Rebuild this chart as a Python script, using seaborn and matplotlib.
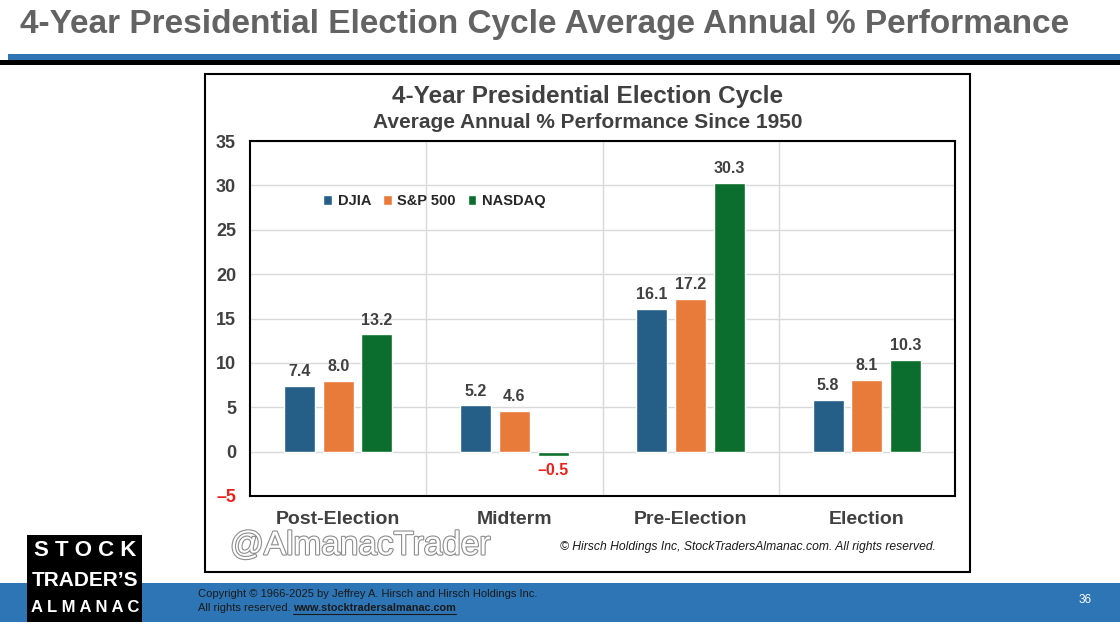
import matplotlib
matplotlib.use("Agg")
import matplotlib.pyplot as plt
import matplotlib.patheffects as pe
from matplotlib.patches import Rectangle
import pandas as pd
import seaborn as sns

categories = ["Post-Election", "Midterm", "Pre-Election", "Election"]
djia = [7.4, 5.2, 16.1, 5.8]
sp500 = [8.0, 4.6, 17.2, 8.1]
nasdaq = [13.2, -0.5, 30.3, 10.3]
series_names = ["DJIA", "S&P 500", "NASDAQ"]
series_colors = ["#255E86", "#E97B3A", "#0B6E2E"]
y_ticks = [-5, 0, 5, 10, 15, 20, 25, 30, 35]

sns.set_theme(style="white")
plt.rcParams["font.family"] = ["Liberation Sans", "DejaVu Sans"]

W, H = 1120, 625
fig = plt.figure(figsize=(W / 100, H / 100), dpi=100)
fig.patch.set_facecolor("white")


def px(x, y):
    # pixel coords (top-left origin) -> figure fraction
    return x / W, 1 - y / H


# header
fig.text(*px(20, 25), "4-Year Presidential Election Cycle Average Annual % Performance",
         fontsize=24, fontweight="bold", color="#636363", va="center", ha="left")
fig.patches.append(Rectangle(px(8, 60), 1, 6 / H, transform=fig.transFigure,
                             facecolor="#2E75B6", edgecolor="none"))
fig.patches.append(Rectangle(px(0, 65), 1, 5 / H, transform=fig.transFigure,
                             facecolor="black", edgecolor="none"))

# footer band
fig.patches.append(Rectangle(px(0, 622), 1, 39 / H, transform=fig.transFigure,
                             facecolor="#2E75B6", edgecolor="none"))
fig.text(*px(198, 594), "Copyright \u00a9 1966-2025 by Jeffrey A. Hirsch and Hirsch Holdings Inc.",
         fontsize=8, color="#1a1a1a", va="center")
fig.text(*px(198, 608), "All rights reserved.", fontsize=8, color="#1a1a1a", va="center")
fig.text(*px(293, 608), "www.stocktradersalmanac.com", fontsize=7.8, color="#1a1a1a",
         va="center", fontweight="bold")
fig.lines.append(plt.Line2D([293 / W, 456 / W], [1 - 614 / H] * 2, transform=fig.transFigure,
                            color="#1a1a1a", lw=0.8))
fig.text(*px(1085, 600), "36", fontsize=8.5, color="white", va="center", ha="center")

# logo
fig.patches.append(Rectangle(px(27, 622), 115 / W, 87 / H, transform=fig.transFigure,
                             facecolor="black", edgecolor="none", zorder=3))
fig.text(*px(85, 551), "S T O C K", fontsize=16, fontweight="bold", color="white",
         ha="center", va="center", zorder=4)
fig.text(*px(85, 580), "TRADER\u2019S", fontsize=15, fontweight="bold", color="white",
         ha="center", va="center", zorder=4)
fig.text(*px(85, 607), "A L M A N A C", fontsize=12, fontweight="bold", color="white",
         ha="center", va="center", zorder=4)

# chart frame
fig.patches.append(Rectangle(px(205, 572), 765 / W, 498 / H, transform=fig.transFigure,
                             facecolor="none", edgecolor="black", lw=1.5))
fig.text(*px(588, 97), "4-Year Presidential Election Cycle", fontsize=17.5, fontweight="bold",
         color="#404040", ha="center", va="center")
fig.text(*px(588, 122), "Average Annual % Performance Since 1950", fontsize=15, fontweight="bold",
         color="#404040", ha="center", va="center")

df = pd.DataFrame({
    "category": categories * 3,
    "series": [s for s in series_names for _ in categories],
    "value": djia + sp500 + nasdaq,
})

ax = fig.add_axes([250 / W, 1 - 496 / H, 705 / W, 355 / H])
sns.barplot(data=df, x="category", y="value", hue="series", hue_order=series_names,
            palette=series_colors, order=categories, width=0.66, gap=0.2,
            saturation=1, ax=ax, zorder=3)

ax.set_ylim(-5, 35)
ax.set_xlim(-0.5, len(categories) - 0.5)
ax.set_yticks(y_ticks)
ax.set_yticklabels(["\u20135" if t < 0 else str(t) for t in y_ticks])
for lbl, t in zip(ax.get_yticklabels(), y_ticks):
    lbl.set_color("#E8211B" if t < 0 else "#404040")
ax.tick_params(axis="y", length=0, pad=10, labelsize=13)
ax.tick_params(axis="x", length=0, pad=11, labelsize=14)
for lbl in ax.get_yticklabels() + ax.get_xticklabels():
    lbl.set_fontweight("bold")
for lbl in ax.get_xticklabels():
    lbl.set_color("#404040")
ax.set_xlabel("")
ax.set_ylabel("")

ax.grid(axis="y", color="#D9D9D9", lw=1, zorder=0)
for xv in [0.5, 1.5, 2.5]:
    ax.axvline(xv, color="#D9D9D9", lw=1, zorder=0)
for sp in ax.spines.values():
    sp.set_color("black")
    sp.set_linewidth(1.5)

for cont in ax.containers:
    labels = []
    for b in cont:
        v = b.get_height()
        labels.append(f"\u2013{abs(v):.1f}" if v < 0 else f"{v:.1f}")
    texts = ax.bar_label(cont, labels=labels, padding=5, fontsize=11.5, fontweight="bold",
                         color="#404040")
    for t, b in zip(texts, cont):
        if b.get_height() < 0:
            t.set_color("#E8211B")

handles, _ = ax.get_legend_handles_labels()
ax.legend(handles, series_names, loc="upper left", bbox_to_anchor=(0.085, 0.887), ncol=3,
          frameon=False, handlelength=0.6, handleheight=0.6, handletextpad=0.4,
          columnspacing=0.8, prop={"weight": "bold", "size": 10.5})

# watermark and credit
fig.text(*px(230, 546), "@AlmanacTrader", fontsize=24, color="white", va="center", ha="left",
         path_effects=[pe.withStroke(linewidth=1.6, foreground="#8c8c8c")])
fig.text(*px(936, 547), "\u00a9 Hirsch Holdings Inc, StockTradersAlmanac.com. All rights reserved.",
         fontsize=8.7, style="italic", color="#1a1a1a", va="center", ha="right")

fig.savefig("out.png", dpi=100)
